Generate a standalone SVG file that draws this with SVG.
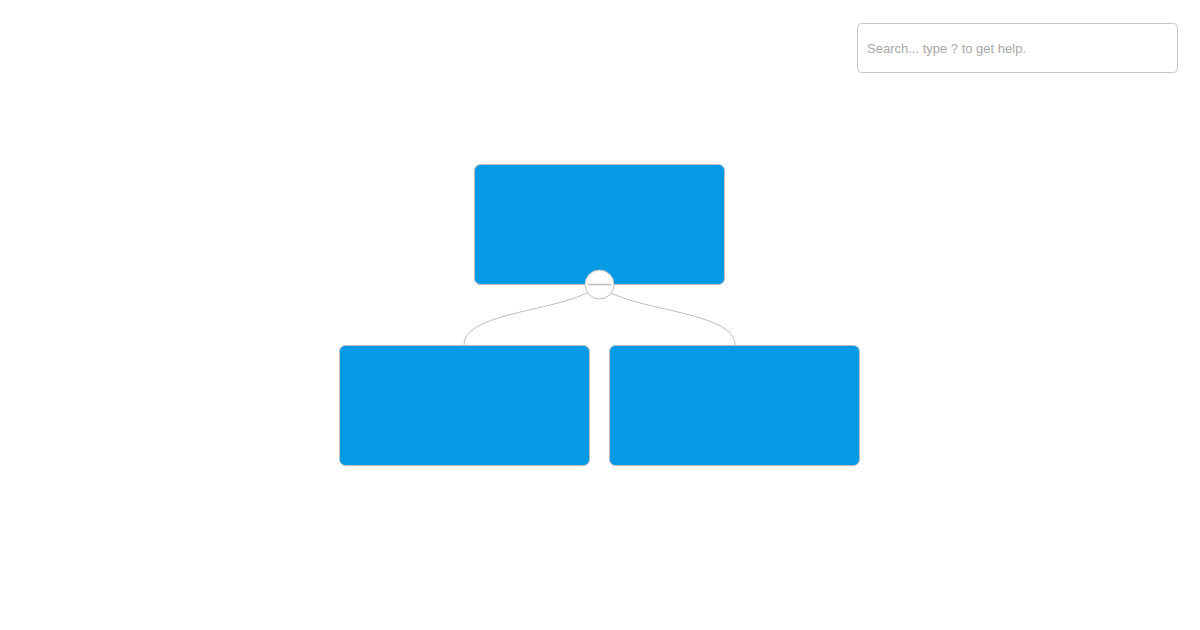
<svg xmlns="http://www.w3.org/2000/svg" width="1200" height="630" viewBox="0 0 1200 630">
<style>
.node{fill:#059ae5;stroke:#bdbdbd;stroke-width:1}
.link{fill:none;stroke:#bdbdbd;stroke-width:1}
</style>
<rect width="1200" height="630" fill="#fff"/>
<g id="search">
<rect x="857.5" y="23.5" width="320" height="49" rx="4" fill="#fff" stroke="#c8c8c8"/>
<text x="867" y="53" font-family="Liberation Sans, Arial, sans-serif" font-size="13" fill="#a8a8a8">Search... type ? to get help.</text>
</g>
<g id="connectors">
<path class="link" d="M599 285 C570 312 464 310 464 345"/>
<path class="link" d="M599 285 C628 312 735 310 735 345"/>
</g>
<g id="node-root"><rect class="node" x="474.5" y="164.5" width="250" height="120" rx="6"/></g>
<g id="node-left"><rect class="node" x="339.5" y="345.5" width="250" height="120" rx="6"/></g>
<g id="node-right"><rect class="node" x="609.5" y="345.5" width="250" height="120" rx="6"/></g>
<g id="toggle">
<circle cx="599.5" cy="284.5" r="14.5" fill="#fff" stroke="#bdbdbd"/>
<line x1="588" y1="284.5" x2="611" y2="284.5" stroke="#bdbdbd" stroke-width="1.5"/>
</g>
</svg>
